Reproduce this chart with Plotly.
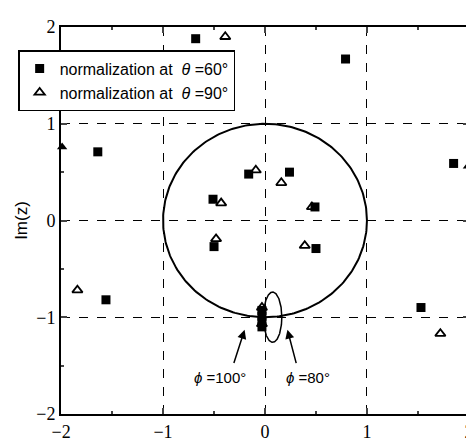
import numpy as np
import plotly.graph_objects as go

sq_x = [-0.68, 0.79, -1.64, -0.16, 0.24, -0.51, 0.49, -0.50, 0.50, -1.56, 1.53, 1.85, -0.03, -0.03, -0.03, -0.03]
sq_y = [1.88, 1.67, 0.71, 0.48, 0.50, 0.22, 0.14, -0.27, -0.29, -0.82, -0.90, 0.59, -0.93, -0.99, -1.05, -1.10]
tr_x = [-0.39, -0.09, 0.16, -0.43, 0.46, -0.48, 0.39, -1.84, 1.72, -0.03, -0.03]
tr_y = [1.90, 0.52, 0.39, 0.18, 0.14, -0.19, -0.26, -0.72, -1.17, -0.90, -1.07]
edge_x = [-1.99, 1.99]
edge_y = [0.76, 0.56]

fig = go.Figure()
t = np.linspace(0, 2*np.pi, 300)
fig.add_trace(go.Scatter(x=np.cos(t), y=np.sin(t), mode="lines", line=dict(color="black", width=2), showlegend=False, hoverinfo="skip"))
fig.add_trace(go.Scatter(x=0.075+0.09*np.cos(t), y=-1.0+0.26*np.sin(t), mode="lines", line=dict(color="black", width=1.5), showlegend=False, hoverinfo="skip"))
fig.add_trace(go.Scatter(x=sq_x, y=sq_y, mode="markers", marker=dict(symbol="square", size=9, color="black"),
                         name="normalization at  <i>θ</i> =60°"))
fig.add_trace(go.Scatter(x=tr_x, y=tr_y, mode="markers", marker=dict(symbol="triangle-up-open", size=9, color="black", line=dict(width=1.8)),
                         name="normalization at  <i>θ</i> =90°"))
fig.add_trace(go.Scatter(x=edge_x, y=edge_y, mode="markers", marker=dict(symbol="triangle-up", size=9, color="black"), showlegend=False, cliponaxis=False))

fig.add_annotation(x=-0.2, y=-1.13, ax=-0.31, ay=-1.49, xref="x", yref="y", axref="x", ayref="y", showarrow=True, arrowhead=2, arrowsize=1.2, arrowwidth=1.5, arrowcolor="black", text="")
fig.add_annotation(x=0.22, y=-1.13, ax=0.31, ay=-1.49, xref="x", yref="y", axref="x", ayref="y", showarrow=True, arrowhead=2, arrowsize=1.2, arrowwidth=1.5, arrowcolor="black", text="")
fig.add_annotation(x=-0.44, y=-1.62, text="<i>ϕ</i> =100°", showarrow=False, font=dict(size=15, color="black"), bgcolor="white")
fig.add_annotation(x=0.42, y=-1.62, text="<i>ϕ</i> =80°", showarrow=False, font=dict(size=15, color="black"), bgcolor="white")

ax = dict(showline=True, mirror="allticks", linecolor="black", linewidth=2, ticks="inside", ticklen=6, tickwidth=1.5,
          showgrid=True, gridcolor="black", griddash="dash", gridwidth=1, zeroline=False, range=[-2.001, 2.001],
          tickvals=[-2, -1, 0, 1, 2],
          minor=dict(ticks="inside", ticklen=3, tickvals=[-1.5, -0.5, 0.5, 1.5], showgrid=False),
          tickfont=dict(family="Liberation Serif", size=18, color="black"))
fig.update_xaxes(**ax)
fig.update_yaxes(**ax, title=dict(text="Im(z)", font=dict(family="Liberation Sans", size=17, color="black"), standoff=4))
fig.update_layout(width=474, height=443, margin=dict(l=53, r=10, t=9, b=21), plot_bgcolor="white", paper_bgcolor="white",
                  font=dict(family="Liberation Sans", size=16, color="black"),
                  legend=dict(x=-0.105, y=0.94, xanchor="left", yanchor="top", bgcolor="white", bordercolor="black", borderwidth=1.5,
                              font=dict(size=16), tracegroupgap=4))
fig.write_html("out.html")
